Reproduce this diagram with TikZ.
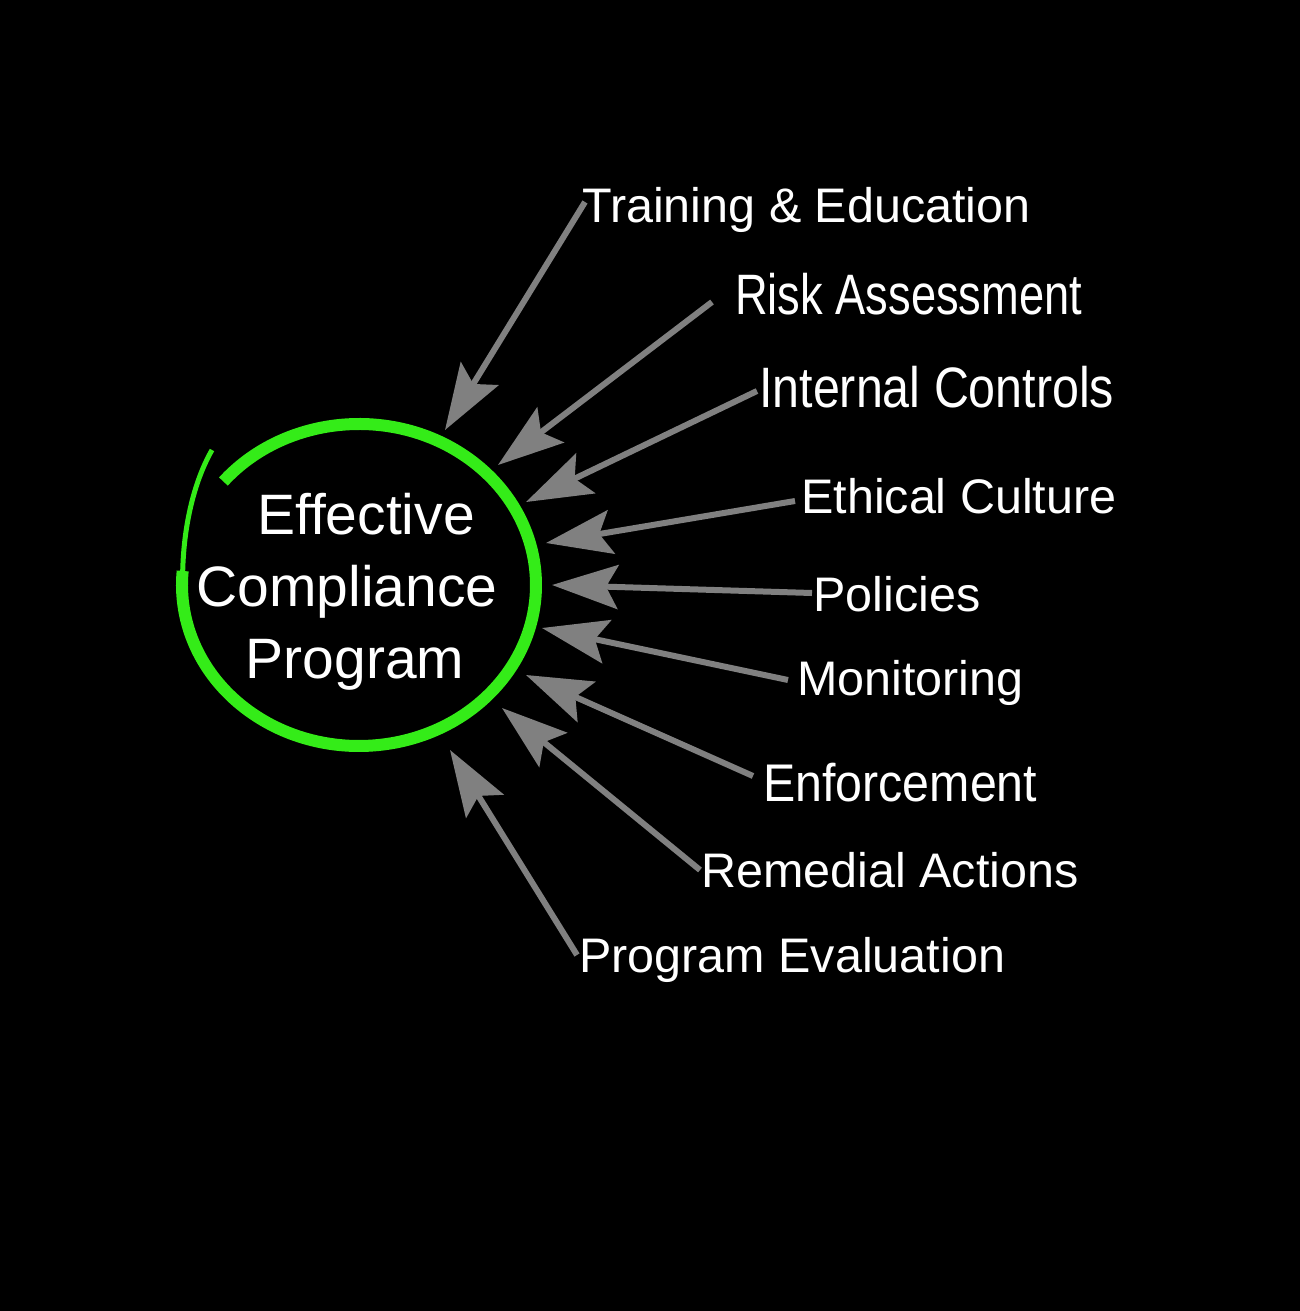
\documentclass[tikz,border=0pt]{standalone}
\usepackage{fontspec}
\setmainfont{Liberation Sans}
\usepackage{graphicx}
\usetikzlibrary{arrows.meta, positioning}
\definecolor{ringgreen}{RGB}{52,236,24}
\definecolor{arrowgray}{RGB}{128,128,128}
\newcommand{\squeezed}[3]{{\fontsize{#1}{#1}\selectfont\scalebox{#2}[1]{#3}}}

\begin{document}
\begin{tikzpicture}[x=1pt, y=-1pt,
	lbl/.style={text=white, anchor=base west, inner sep=0pt, font=\fontsize{48.5}{58}\selectfont},
	arr/.style={draw=arrowgray, line width=6pt, -{Stealth[length=66pt, width=44pt, inset=12pt]}},
	ring/.style={draw=ringgreen, line width=12pt}]
	\fill (0,0) rectangle (1300,1311);
	% ring and centre text
	\draw[ring] (223.4,481.5) arc[start angle=-140, end angle=185, x radius=177, y radius=161];
	\draw[draw=ringgreen, line width=5pt] (182.7,571) .. controls (184,520) and (196,478) .. (212,450);
	\node[text=white, align=center, font=\fontsize{57}{72}\selectfont] (prog) at (347,592)
		{\hspace*{38pt}Effective\\Compliance\\\hspace*{16pt}Program};
	% labels
	\node[lbl] (train) at (582,222) {Training \& Education};
	\node[lbl] (risk)  at (735,314) {\squeezed{57}{0.794}{Risk Assessment}};
	\node[lbl] (intc)  at (759,407) {\squeezed{57}{0.849}{Internal Controls}};
	\node[lbl] (ethic) at (801,513) {Ethical Culture};
	\node[lbl] (pol)   at (813,611) {Policies};
	\node[lbl] (mon)   at (797,695) {Monitoring};
	\node[lbl] (enf)   at (763,801) {\squeezed{53}{0.912}{Enforcement}};
	\node[lbl] (rem)   at (701,887) {Remedial Actions};
	\node[lbl] (eval)  at (579,972) {Program Evaluation};
	% arrow ends
	\coordinate (train-s) at (585,202); \coordinate (train-e) at (445,430);
	\coordinate (risk-s)  at (712,302); \coordinate (risk-e)  at (498,465);
	\coordinate (intc-s)  at (757,391); \coordinate (intc-e)  at (526,502);
	\coordinate (ethic-s) at (795,501); \coordinate (ethic-e) at (546,543);
	\coordinate (pol-s)   at (812,593); \coordinate (pol-e)   at (552,585);
	\coordinate (mon-s)   at (788,680); \coordinate (mon-e)   at (542,628);
	\coordinate (enf-s)   at (753,776); \coordinate (enf-e)   at (526,675);
	\coordinate (rem-s)   at (700,870); \coordinate (rem-e)   at (502,708);
	\coordinate (eval-s)  at (577,955); \coordinate (eval-e)  at (450,750);
	\foreach \n in {train, risk, intc, ethic, pol, mon, enf, rem, eval}
		\draw[arr] (\n-s) -- (\n-e);
\end{tikzpicture}
\end{document}
